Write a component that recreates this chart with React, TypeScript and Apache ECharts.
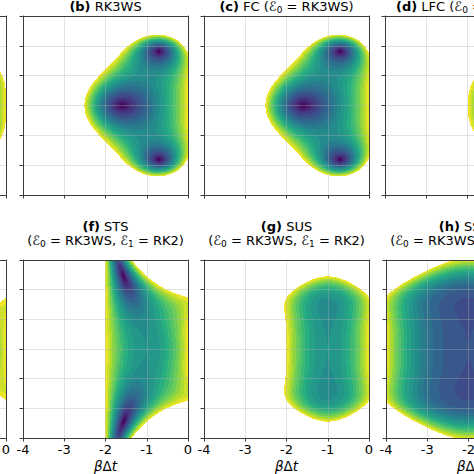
import React, { useEffect, useRef } from "react";
import * as echarts from "echarts";

// ---------- data ----------
const X_RANGE = [-4, 0];
const Y_RANGE = [-3, 3];
const TICK_STEP = 1;

// Stability polynomial coefficients, R(z) = sum c_k z^k
const RK3WS_COEFFS = [1, 1, 1 / 2, 1 / 6];
const RK2_COEFFS = [1, 1, 1 / 2];

// filled-contour levels of |R|
const CONTOUR_LEVELS = [0, 0.05, 0.1, 0.15, 0.2, 0.25, 0.3, 0.35, 0.4, 0.45, 0.5, 0.55, 0.6, 0.65, 0.7, 0.75, 0.8, 0.85, 0.9, 0.95, 1.0];

const PANEL_LETTERS = ["a", "b", "c", "d", "e", "f", "g", "h"];
const PANEL_SCHEMES = ["RK2", "RK3WS", "FC", "LFC", "PS", "STS", "SUS", "SSUS"];
const PANEL_COUPLING = ["", "", "E0", "E0", "E0E1", "E0E1", "E0E1", "E0E1"];

const VIRIDIS_STOPS = ["#440154", "#472d7b", "#3b528b", "#2c728e", "#21918c", "#28ae80", "#5ec962", "#addc30", "#fde725"];

// ---------- layout ----------
const CHART_W = 474;
const PANEL_W = 165;
const COL_LEFT = [
  [-159, 23, 204, 385],
  [-159, 23, 204, 386],
];
const ROW_TOP = [16, 260];
const ROW_H = [179, 178];
const FONT = "DejaVu Sans";

type C = [number, number];
const cadd = (a: C, b: C): C => [a[0] + b[0], a[1] + b[1]];
const cmul = (a: C, b: C): C => [a[0] * b[0] - a[1] * b[1], a[0] * b[1] + a[1] * b[0]];
const cabs = (a: C) => Math.hypot(a[0], a[1]);
const cpoly = (co: number[], z: C): C => {
  let r: C = [co[co.length - 1], 0];
  for (let k = co.length - 2; k >= 0; k--) r = cadd(cmul(r, z), [co[k], 0]);
  return r;
};

function amplification(scheme: string, x: number, y: number): number {
  const z: C = [x, y];
  const dyn: C = [0, y];
  const phys: C = [x, 0];
  const one: C = [1, 0];
  switch (scheme) {
    case "RK2":
      return cabs(cpoly(RK2_COEFFS, z));
    case "RK3WS":
    case "FC":
      return cabs(cpoly(RK3WS_COEFFS, z));
    case "LFC":
      return cabs(cadd(one, cmul(z, cpoly(RK3WS_COEFFS.slice(1), dyn))));
    case "PS":
      return cabs(cadd(cadd(cpoly(RK3WS_COEFFS, dyn), cpoly(RK2_COEFFS, phys)), [-1, 0]));
    case "STS": {
      const d = cadd(cpoly(RK3WS_COEFFS, dyn), [-1, 0]);
      return cabs(cadd(one, cmul(cadd(phys, d), cpoly(RK2_COEFFS.slice(1), phys))));
    }
    case "SUS":
      return cabs(cmul(cpoly(RK2_COEFFS, phys), cpoly(RK3WS_COEFFS, dyn)));
    case "SSUS": {
      const h = cpoly(RK2_COEFFS, [x / 2, 0]);
      return cabs(cmul(cmul(h, cpoly(RK3WS_COEFFS, dyn)), h));
    }
  }
  return 2;
}

function levelOf(v: number): number {
  const n = CONTOUR_LEVELS.length;
  if (v > CONTOUR_LEVELS[n - 1] || v < CONTOUR_LEVELS[0]) return -1;
  for (let k = 0; k < n - 1; k++) if (v < CONTOUR_LEVELS[k + 1]) return k;
  return n - 2;
}

function hex(h: string) {
  return [parseInt(h.slice(1, 3), 16), parseInt(h.slice(3, 5), 16), parseInt(h.slice(5, 7), 16)];
}
function viridis(t: number): string {
  const n = VIRIDIS_STOPS.length - 1;
  const f = Math.max(0, Math.min(1, t)) * n;
  const i = Math.min(n - 1, Math.floor(f));
  const u = f - i;
  const a = hex(VIRIDIS_STOPS[i]);
  const b = hex(VIRIDIS_STOPS[i + 1]);
  const c = a.map((v, k) => Math.round(v + (b[k] - v) * u));
  return `rgb(${c[0]},${c[1]},${c[2]})`;
}
const LEVEL_COLORS = CONTOUR_LEVELS.slice(0, -1).map((lv, k) => {
  const lo = CONTOUR_LEVELS[0];
  const hi = CONTOUR_LEVELS[CONTOUR_LEVELS.length - 1];
  const mid = (lv + CONTOUR_LEVELS[k + 1]) / 2;
  return viridis((mid - lo) / (hi - lo));
});

function buildRuns(scheme: string, left: number, W: number, H: number): number[][] {
  const dx = (X_RANGE[1] - X_RANGE[0]) / W;
  const dy = (Y_RANGE[1] - Y_RANGE[0]) / H;
  const iStart = Math.max(0, Math.floor(-left) - 1);
  const iEnd = Math.min(W, Math.ceil(CHART_W - left) + 1);
  const out: number[][] = [];
  for (let j = 0; j < H; j++) {
    const y = Y_RANGE[1] - (j + 0.5) * dy;
    let runStart = -1;
    let runLevel = -1;
    for (let i = iStart; i <= iEnd; i++) {
      let lev = -1;
      if (i < iEnd) {
        const x = X_RANGE[0] + (i + 0.5) * dx;
        lev = levelOf(amplification(scheme, x, y));
      }
      if (lev !== runLevel) {
        if (runLevel >= 0)
          out.push([X_RANGE[0] + runStart * dx, X_RANGE[0] + i * dx, Y_RANGE[1] - j * dy, Y_RANGE[1] - (j + 1) * dy, runLevel]);
        runStart = i;
        runLevel = lev;
      }
    }
  }
  return out;
}

const TF = 13;
const RICH = {
  b: { fontFamily: FONT, fontSize: TF, fontWeight: "bold", color: "#000", lineHeight: 16 },
  n: { fontFamily: FONT, fontSize: TF, color: "#000", lineHeight: 16 },
  e: { fontFamily: FONT, fontSize: TF, color: "#000", lineHeight: 16, fontStyle: "italic" },
  s: { fontFamily: FONT, fontSize: 9, color: "#000", lineHeight: 8, verticalAlign: "bottom" },
};

function titleLines(p: number): string[] {
  const head = `{b|(${PANEL_LETTERS[p]})}{n| ${PANEL_SCHEMES[p]}}`;
  const cp = PANEL_COUPLING[p];
  if (cp === "E0") return [`{b|(${PANEL_LETTERS[p]})}{n| ${PANEL_SCHEMES[p]} (}{e|ℰ}{s|0}{n| = RK3WS)}`];
  if (cp === "E0E1") return [head, `{n|(}{e|ℰ}{s|0}{n| = RK3WS, }{e|ℰ}{s|1}{n| = RK2)}`];
  return [head];
}

export default function App() {
  const ref = useRef<HTMLDivElement>(null);
  useEffect(() => {
    if (!ref.current) return;
    const chart = echarts.init(ref.current, undefined, { renderer: "svg" });
    const grids: any[] = [];
    const xAxes: any[] = [];
    const yAxes: any[] = [];
    const series: any[] = [];
    const graphics: any[] = [];
    const lineStyle = { color: "#3c3c3c", width: 1 };
    const gridLine = { color: "rgba(176,176,176,0.45)", width: 0.8 };
    for (let p = 0; p < 8; p++) {
      const row = p < 4 ? 0 : 1;
      const col = p % 4;
      const left = COL_LEFT[row][col];
      const top = ROW_TOP[row];
      const H = ROW_H[row];
      const offLeft = left < 0; // panel mostly outside the picture
      grids.push({ left, top, width: PANEL_W, height: H, containLabel: false, outerBoundsMode: "none" });
      const bottomRow = row === 1;
      xAxes.push({
        gridIndex: p,
        type: "value",
        position: "bottom",
        min: X_RANGE[0],
        max: X_RANGE[1],
        interval: TICK_STEP,
        z: 5,
        axisLine: { show: true, onZero: false, lineStyle },
        axisTick: { show: true, length: 3.5, lineStyle },
        axisLabel: {
          show: bottomRow,
          color: "#000",
          fontSize: 13,
          fontFamily: FONT,
          margin: 5,
          showMinLabel: true,
          showMaxLabel: true,
          formatter: (v: number) => (offLeft && v !== X_RANGE[1] ? "" : String(v)),
        },
        splitLine: { show: true, lineStyle: gridLine },
        name: bottomRow && !offLeft ? "{i|β}{n|Δ}{i|t}" : "",
        nameLocation: "middle",
        nameGap: 21,
        nameTextStyle: {
          rich: {
            i: { fontFamily: FONT, fontSize: 13.5, fontStyle: "italic", color: "#000" },
            n: { fontFamily: FONT, fontSize: 13.5, color: "#000" },
          },
        },
      });
      xAxes.push({
        gridIndex: p,
        type: "value",
        position: "top",
        min: X_RANGE[0],
        max: X_RANGE[1],
        interval: TICK_STEP,
        z: 5,
        axisLine: { show: true, onZero: false, lineStyle },
        axisTick: { show: false },
        axisLabel: { show: false },
        splitLine: { show: false },
      });
      yAxes.push({
        gridIndex: p,
        type: "value",
        position: "left",
        min: Y_RANGE[0],
        max: Y_RANGE[1],
        interval: TICK_STEP,
        z: 5,
        axisLine: { show: true, onZero: false, lineStyle },
        axisTick: { show: true, length: 3.5, lineStyle },
        axisLabel: { show: false },
        splitLine: { show: true, lineStyle: gridLine },
      });
      yAxes.push({
        gridIndex: p,
        type: "value",
        position: "right",
        min: Y_RANGE[0],
        max: Y_RANGE[1],
        interval: TICK_STEP,
        z: 5,
        axisLine: { show: true, onZero: false, lineStyle },
        axisTick: { show: false },
        axisLabel: { show: false },
        splitLine: { show: false },
      });
      series.push({
        type: "custom",
        xAxisIndex: 2 * p,
        yAxisIndex: 2 * p,
        data: buildRuns(PANEL_SCHEMES[p], left, PANEL_W, H),
        silent: true,
        progressive: 0,
        clip: true,
        z: 2,
        encode: { x: [0, 1], y: [2, 3] },
        renderItem: (_params: any, api: any) => {
          const p0 = api.coord([api.value(0), api.value(2)]);
          const p1 = api.coord([api.value(1), api.value(3)]);
          return {
            type: "rect",
            shape: { x: p0[0], y: p0[1], width: p1[0] - p0[0], height: p1[1] - p0[1] },
            style: { fill: LEVEL_COLORS[api.value(4)] },
          };
        },
      });
      if (!offLeft) {
        const cx = left + PANEL_W / 2;
        const lines = titleLines(p);
        const ys = row === 0 ? [6.5] : [226.5, 240];
        lines.forEach((t, k) => {
          graphics.push({
            type: "text",
            x: cx,
            y: ys[k],
            silent: true,
            style: { text: t, rich: RICH, align: "center", verticalAlign: "middle", fontFamily: FONT, fontSize: TF },
          });
        });
      }
    }
    chart.setOption({
      animation: false,
      backgroundColor: "#ffffff",
      grid: grids,
      xAxis: xAxes,
      yAxis: yAxes,
      series,
      graphic: graphics,
    });
    return () => chart.dispose();
  }, []);
  return <div ref={ref} style={{ position: "fixed", left: 0, top: 0, width: 474, height: 474 }} />;
}
